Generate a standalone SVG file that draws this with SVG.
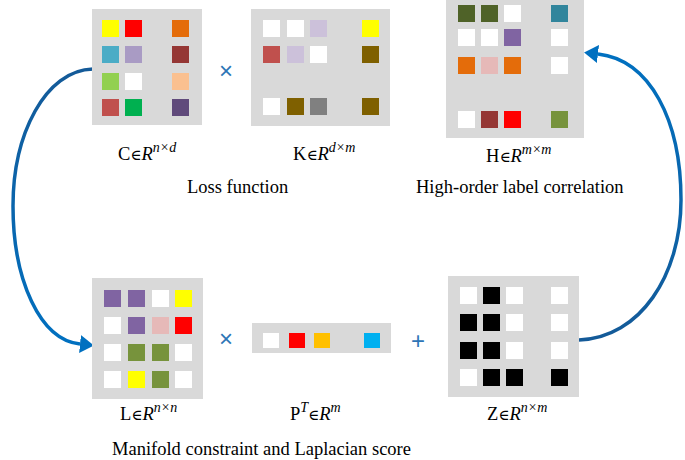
<svg xmlns="http://www.w3.org/2000/svg" width="685" height="460" viewBox="0 0 685 460">
<style>
.box{fill:#D9D9D9}
.sq rect{width:17px;height:17px}
.w{fill:#FFFFFF}
.k{fill:#000000}
.lbl{font-family:"Liberation Serif","DejaVu Serif",serif;font-size:18.5px;fill:#000}
.sup{font-size:14px;font-style:italic}
.it{font-style:italic}
.el{font-size:15px}
.cap{font-family:"Liberation Serif","DejaVu Serif",serif;font-size:18.5px;fill:#000}
.op{font-family:"Liberation Sans","DejaVu Sans",sans-serif;font-size:24px;fill:#2E75B6;text-anchor:middle}
.arr{fill:none;stroke-width:3.5}
</style>
<defs>
<linearGradient id="gl" x1="0" y1="0" x2="0" y2="1">
<stop offset="0" stop-color="#145A98"/>
<stop offset="1" stop-color="#0070C0"/>
</linearGradient>
<linearGradient id="gr" x1="0" y1="1" x2="0" y2="0">
<stop offset="0" stop-color="#145A98"/>
<stop offset="1" stop-color="#0070C0"/>
</linearGradient>
<marker id="ah" markerUnits="userSpaceOnUse" markerWidth="16" markerHeight="20" refX="0" refY="9" orient="auto" viewBox="0 0 16 20">
<path d="M0,0 L14,9 L0,18 Z" fill="#0070C0"/>
</marker>
</defs>

<g id="connectors">
<path class="arr" stroke="url(#gl)" d="M93,69 C45,70 13,135 13,206 C13,280 40,340 80,344" marker-end="url(#ah)"/>
<path class="arr" stroke="url(#gr)" d="M579,340 C640,338 681,275 681,200 C681,120 650,60 598,54" marker-end="url(#ah)"/>
</g>

<g id="matrix-C" class="sq">
<rect class="box" x="92" y="9" style="width:110px;height:116px"/>
<rect x="102" y="20" fill="#FFFF00"/><rect x="125" y="20" fill="#FF0000"/><rect x="172" y="20" fill="#E46C0A"/>
<rect x="102" y="46" fill="#4BACC6"/><rect x="125" y="46" fill="#A99BC4"/><rect x="172" y="46" fill="#953735"/>
<rect x="102" y="73" fill="#92D050"/><rect x="125" y="73" fill="#FFFFFF"/><rect x="172" y="73" fill="#FAC090"/>
<rect x="102" y="99" fill="#C0504D"/><rect x="125" y="99" fill="#00B050"/><rect x="172" y="99" fill="#604A7B"/>
</g>

<g id="matrix-K" class="sq">
<rect class="box" x="251" y="9" style="width:139px;height:117px"/>
<rect x="263" y="20" class="w"/><rect x="287" y="20" class="w"/><rect x="310" y="20" fill="#CCC1DA"/><rect x="362" y="20" fill="#FFFF00"/>
<rect x="263" y="46" fill="#C0504D"/><rect x="287" y="46" fill="#CCC1DA"/><rect x="310" y="46" class="w"/><rect x="362" y="46" fill="#7F6000"/>
<rect x="263" y="98" class="w"/><rect x="287" y="98" fill="#7F6000"/><rect x="310" y="98" fill="#808080"/><rect x="362" y="98" fill="#7F6000"/>
</g>

<g id="matrix-H" class="sq">
<rect class="box" x="446" y="0" style="width:138px;height:138px"/>
<rect x="458" y="5" fill="#4F6228"/><rect x="481" y="5" fill="#4F6228"/><rect x="504" y="5" class="w"/><rect x="551" y="5" fill="#31859C"/>
<rect x="458" y="29" class="w"/><rect x="481" y="29" class="w"/><rect x="504" y="29" fill="#8064A2"/><rect x="551" y="29" class="w"/>
<rect x="458" y="57" fill="#E46C0A"/><rect x="481" y="57" fill="#E6B9B8"/><rect x="504" y="57" fill="#E46C0A"/><rect x="551" y="57" class="w"/>
<rect x="458" y="111" class="w"/><rect x="481" y="111" fill="#953735"/><rect x="504" y="111" fill="#FF0000"/><rect x="551" y="111" fill="#77933C"/>
</g>

<g id="matrix-L" class="sq">
<rect class="box" x="92" y="278" style="width:111px;height:121px"/>
<rect x="104" y="290" fill="#8064A2"/><rect x="128" y="290" fill="#8064A2"/><rect x="152" y="290" class="w"/><rect x="175" y="290" fill="#FFFF00"/>
<rect x="104" y="317" class="w"/><rect x="128" y="317" fill="#8064A2"/><rect x="152" y="317" fill="#E6B9B8"/><rect x="175" y="317" fill="#FF0000"/>
<rect x="104" y="344" class="w"/><rect x="128" y="344" fill="#77933C"/><rect x="152" y="344" fill="#77933C"/><rect x="175" y="344" class="w"/>
<rect x="104" y="371" class="w"/><rect x="128" y="371" fill="#FFFF00"/><rect x="152" y="371" fill="#77933C"/><rect x="175" y="371" class="w"/>
</g>

<g id="matrix-P" class="sq">
<rect class="box" x="252" y="323" style="width:139px;height:30px"/>
<rect x="263" y="333" class="w" style="width:16px;height:15px"/><rect x="289" y="333" fill="#FF0000" style="width:16px;height:15px"/><rect x="314" y="333" fill="#FFC000" style="width:16px;height:15px"/><rect x="364" y="333" fill="#00B0F0" style="width:16px;height:15px"/>
</g>

<g id="matrix-Z" class="sq">
<rect class="box" x="448" y="276" style="width:131px;height:121px"/>
<rect x="460" y="287" class="w"/><rect x="483" y="287" class="k"/><rect x="506" y="287" class="w"/><rect x="551" y="287" class="w"/>
<rect x="460" y="314" class="k"/><rect x="483" y="314" class="k"/><rect x="506" y="314" class="w"/><rect x="551" y="314" class="w"/>
<rect x="460" y="342" class="k"/><rect x="483" y="342" class="k"/><rect x="506" y="342" class="w"/><rect x="551" y="342" class="w"/>
<rect x="460" y="369" class="w"/><rect x="483" y="369" class="k"/><rect x="506" y="369" class="k"/><rect x="551" y="369" class="k"/>
</g>

<g id="operators">
<text class="op" x="226" y="79">×</text>
<text class="op" x="226" y="347">×</text>
<text class="op" x="418" y="349">+</text>
</g>

<g id="labels">
<text class="lbl" x="118" y="160">C<tspan class="el">∈</tspan><tspan class="it">R</tspan><tspan class="sup" dy="-8">n×d</tspan></text>
<text class="lbl" x="293" y="160">K<tspan class="el">∈</tspan><tspan class="it">R</tspan><tspan class="sup" dy="-8">d×m</tspan></text>
<text class="lbl" x="486" y="162">H<tspan class="el">∈</tspan><tspan class="it">R</tspan><tspan class="sup" dy="-8">m×m</tspan></text>
<text class="lbl" x="120" y="420">L<tspan class="el">∈</tspan><tspan class="it">R</tspan><tspan class="sup" dy="-8">n×n</tspan></text>
<text class="lbl" x="290" y="420">P<tspan class="sup" dy="-8">T</tspan><tspan class="el" dy="8">∈</tspan><tspan class="it">R</tspan><tspan class="sup" dy="-8">m</tspan></text>
<text class="lbl" x="487" y="420">Z<tspan class="el">∈</tspan><tspan class="it">R</tspan><tspan class="sup" dy="-8">n×m</tspan></text>
<text class="cap" x="187" y="193">Loss function</text>
<text class="cap" x="416" y="193">High-order label correlation</text>
<text class="cap" x="112" y="455">Manifold constraint and Laplacian score</text>
</g>
</svg>
